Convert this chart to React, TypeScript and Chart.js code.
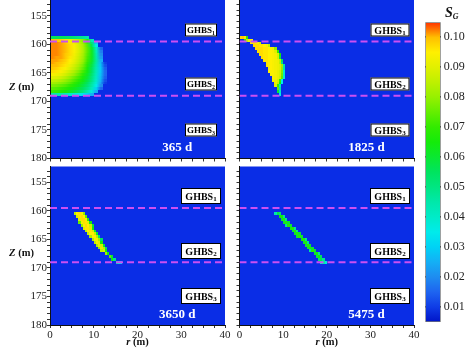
import { useEffect, useRef } from 'react';
import { Chart, registerables } from 'chart.js';
Chart.register(...registerables);

const FONT = "'Liberation Serif', 'Times New Roman', serif";

// ---- axes / tick data ----
const rRange = [0, 40];
const zRange = [152.2, 180];
const rTicks = [0, 2.5, 5, 7.5, 10, 12.5, 15, 17.5, 20, 22.5, 25, 27.5, 30, 32.5, 35, 37.5, 40];
const rLabelTicks = [0, 10, 20, 30, 40];
const zTicks = [153, 154, 155, 156, 157, 158, 159, 160, 161, 162, 163, 164, 165, 166, 167, 168, 169, 170, 171, 172, 173, 174, 175, 176, 177, 178, 179, 180];
const zLabelTicks = [155, 160, 165, 170, 175, 180];
const sgRange = [0.005, 0.105];
const sgTicks = [0.01, 0.02, 0.03, 0.04, 0.05, 0.06, 0.07, 0.08, 0.09, 0.1];

// ---- annotation data ----
const ghbsBoundaryZ = [159.5, 169.0];
const ghbsIndex = ['1', '2', '3'];
const ghbsZ = [157.4, 167.0, 175.0];
const ghbsR = 34.4;
const timeLabels = ['365 d', '1825 d', '3650 d', '5475 d'];
const timeR = 29.1;
const timeZ = 178.1;

// ---- gas saturation fields: [z top of row (m), r of first cell (m), Sg x 1000 per cell] ----
type Row = [number, number, number[]];
const sg365Cell = [1, 0.5]; // dr, dz
const sg365: Row[] = [
  [158.5, 0, [55, 56, 56, 55, 54, 52, 50, 48, 45]],
  [159.0, 0, [99, 99, 98, 96, 93, 89, 85, 79, 68, 42]],
  [159.5, 0, [102, 102, 101, 99, 96, 92, 87, 81, 71, 52, 28]],
  [160.0, 0, [102, 102, 101, 100, 97, 94, 89, 83, 74, 57, 36]],
  [160.5, 0, [102, 102, 101, 100, 97, 94, 89, 83, 74, 60, 40, 15]],
  [161.0, 0, [102, 102, 101, 100, 97, 94, 89, 83, 74, 62, 42, 18]],
  [161.5, 0, [102, 102, 101, 99, 97, 93, 88, 82, 73, 62, 44, 20]],
  [162.0, 0, [102, 101, 101, 99, 96, 92, 87, 81, 72, 62, 45, 22]],
  [162.5, 0, [101, 101, 100, 98, 95, 91, 86, 80, 71, 61, 46, 25]],
  [163.0, 0, [101, 100, 99, 97, 94, 90, 85, 79, 70, 60, 46, 27, 10]],
  [163.5, 0, [100, 100, 98, 96, 92, 88, 83, 77, 68, 58, 45, 28, 12]],
  [164.0, 0, [99, 98, 96, 94, 90, 86, 81, 75, 66, 56, 44, 29, 14]],
  [164.5, 0, [97, 96, 94, 91, 87, 83, 78, 72, 64, 55, 43, 29, 15]],
  [165.0, 0, [94, 93, 91, 88, 84, 80, 75, 69, 62, 53, 42, 28, 15]],
  [165.5, 0, [90, 89, 87, 84, 80, 76, 72, 66, 60, 51, 41, 27, 14]],
  [166.0, 0, [86, 85, 83, 80, 77, 73, 69, 64, 58, 50, 40, 26, 12]],
  [166.5, 0, [82, 81, 79, 77, 74, 70, 66, 61, 55, 47, 38, 24, 10]],
  [167.0, 0, [78, 77, 75, 73, 70, 67, 63, 58, 52, 45, 35, 20]],
  [167.5, 0, [74, 73, 71, 69, 66, 63, 59, 55, 49, 42, 30, 15]],
  [168.0, 0, [70, 69, 67, 65, 62, 59, 55, 51, 45, 37, 25]],
  [168.5, 0, [45, 45, 44, 42, 40, 38, 36, 33, 30, 25]],
];
const sg1825Cell = [0.5, 0.5];
const sg1825: Row[] = [
  [158.5, 0, [98, 99, 96, 70]],
  [159.0, 1.0, [70, 85, 92, 95]],
  [159.5, 2.5, [96, 97, 96, 94, 88]],
  [160.0, 3.0, [97, 97, 97, 96, 96, 95, 93, 85]],
  [160.5, 3.5, [97, 97, 97, 97, 96, 96, 95, 94, 92, 80]],
  [161.0, 4.0, [97, 97, 97, 96, 96, 95, 95, 94, 90, 70]],
  [161.5, 4.5, [97, 97, 96, 96, 95, 95, 94, 93, 88, 65]],
  [162.0, 5.0, [97, 96, 96, 95, 95, 94, 93, 88, 60]],
  [162.5, 5.5, [96, 96, 95, 95, 94, 93, 92, 86, 55]],
  [163.0, 6.0, [96, 95, 95, 94, 93, 92, 85, 50]],
  [163.5, 6.0, [96, 95, 95, 94, 93, 92, 90, 82, 45]],
  [164.0, 6.5, [95, 95, 94, 93, 92, 90, 80, 45]],
  [164.5, 6.5, [95, 94, 94, 93, 91, 88, 78, 40]],
  [165.0, 7.0, [94, 94, 93, 91, 88, 76, 40]],
  [165.5, 7.5, [94, 93, 91, 87, 74, 38]],
  [166.0, 7.5, [93, 92, 88, 70, 35]],
  [166.5, 8.0, [92, 86, 65, 35]],
  [167.0, 8.0, [90, 70, 40]],
  [167.5, 8.5, [75, 45]],
  [168.0, 8.5, [60, 40]],
  [168.5, 9.0, [35]],
];
const sg3650Cell = [0.5, 0.5];
const sg3650: Row[] = [
  [160.25, 5.5, [85, 95, 96, 94, 80]],
  [160.75, 6.0, [88, 96, 97, 95, 75]],
  [161.25, 6.5, [90, 97, 97, 94, 70]],
  [161.75, 6.5, [75, 92, 97, 96, 90, 65]],
  [162.25, 7.0, [80, 94, 97, 95, 88, 60]],
  [162.75, 7.5, [88, 96, 96, 90, 65]],
  [163.25, 8.0, [85, 95, 96, 88, 60]],
  [163.75, 8.5, [85, 95, 95, 86, 60]],
  [164.25, 9.0, [82, 94, 94, 84, 55]],
  [164.75, 9.5, [82, 93, 93, 82, 55]],
  [165.25, 10.0, [85, 93, 90, 65]],
  [165.75, 10.5, [82, 92, 88, 60]],
  [166.25, 11.0, [80, 90, 85, 55]],
  [166.75, 11.5, [85, 88, 65]],
  [167.25, 12.5, [82, 65]],
  [167.75, 13.5, [75, 60]],
  [168.25, 14.0, [65, 50]],
  [168.75, 15.0, [45, 40, 30]],
];
const sg5475Cell = [0.5, 0.5];
const sg5475: Row[] = [
  [160.25, 8.0, [45, 58, 52]],
  [160.75, 9.0, [65, 66, 48]],
  [161.25, 9.5, [60, 68, 48]],
  [161.75, 10.0, [60, 68, 60]],
  [162.25, 10.5, [48, 68, 60]],
  [162.75, 11.5, [66, 68, 48]],
  [163.25, 12.0, [60, 68, 48]],
  [163.75, 12.5, [60, 68, 60]],
  [164.25, 13.0, [60, 68, 60]],
  [164.75, 14.0, [66, 68, 48]],
  [165.25, 14.5, [60, 68, 48]],
  [165.75, 15.0, [60, 68, 60]],
  [166.25, 15.5, [60, 68, 60]],
  [166.75, 16.0, [48, 68, 60]],
  [167.25, 17.0, [60, 66, 48]],
  [167.75, 17.5, [58, 64, 55]],
  [168.25, 18.0, [52, 58, 48]],
  [168.75, 18.5, [40, 45, 38]],
];

// ---- colour map (style) ----
const BG_BLUE = 'rgb(10,45,230)';
const cmapV = [0.005, 0.01, 0.015, 0.02, 0.025, 0.03, 0.035, 0.04, 0.045, 0.05, 0.055, 0.06, 0.065, 0.07, 0.075, 0.08, 0.085, 0.09, 0.095, 0.1, 0.105];
const cmapC = [
  [0, 20, 200], [15, 60, 230], [30, 100, 240], [30, 140, 240], [20, 175, 245], [0, 210, 245], [0, 235, 235],
  [0, 235, 200], [0, 232, 170], [0, 230, 130], [0, 228, 95], [10, 232, 50], [20, 235, 10], [50, 235, 0],
  [100, 238, 0], [150, 240, 0], [190, 240, 0], [225, 240, 0], [255, 240, 0], [255, 190, 0], [255, 50, 0],
];
const rgb = (c: number[]) => `rgb(${Math.round(c[0])},${Math.round(c[1])},${Math.round(c[2])})`;
function sgColor(v: number): string {
  if (v <= cmapV[0]) return rgb(cmapC[0]);
  for (let i = 1; i < cmapV.length; i++) {
    if (v <= cmapV[i]) {
      const t = (v - cmapV[i - 1]) / (cmapV[i] - cmapV[i - 1]);
      const a = cmapC[i - 1], b = cmapC[i];
      return rgb([a[0] + (b[0] - a[0]) * t, a[1] + (b[1] - a[1]) * t, a[2] + (b[2] - a[2]) * t]);
    }
  }
  return rgb(cmapC[cmapC.length - 1]);
}

interface PanelSpec {
  left: number; top: number; width: number; height: number;
  plotLeft: number; plotTop: number; plotRight: number; plotBottom: number;
  showZ: boolean; showR: boolean; smooth: boolean;
  rows: Row[]; cell: number[]; time: string; box: number[];
}

const panels: PanelSpec[] = [
  { left: 0, top: 0, width: 232, height: 166, plotLeft: 50, plotTop: 0, plotRight: 225, plotBottom: 158.5, showZ: true, showR: false, smooth: true, rows: sg365, cell: sg365Cell, time: timeLabels[0], box: [32, 13, 9] },
  { left: 230, top: 0, width: 190, height: 166, plotLeft: 9.5, plotTop: 0, plotRight: 184, plotBottom: 158.5, showZ: false, showR: false, smooth: false, rows: sg1825, cell: sg1825Cell, time: timeLabels[1], box: [39, 13, 10] },
  { left: 0, top: 160, width: 232, height: 196, plotLeft: 50, plotTop: 6.5, plotRight: 225, plotBottom: 165, showZ: true, showR: true, smooth: false, rows: sg3650, cell: sg3650Cell, time: timeLabels[2], box: [40, 16, 10] },
  { left: 230, top: 160, width: 190, height: 196, plotLeft: 9.5, plotTop: 6.5, plotRight: 184, plotBottom: 165, showZ: false, showR: true, smooth: false, rows: sg5475, cell: sg5475Cell, time: timeLabels[3], box: [40, 16, 10] },
];

function makePanel(canvas: HTMLCanvasElement, p: PanelSpec) {
  const heat = {
    id: 'heat',
    beforeDraw(chart: any) {
      const { ctx, chartArea: a, scales } = chart;
      const x = scales.x, y = scales.y;
      const [dr, dz] = p.cell;
      ctx.save();
      ctx.fillStyle = BG_BLUE;
      ctx.fillRect(a.left, a.top, a.right - a.left, a.bottom - a.top);
      ctx.beginPath();
      ctx.rect(a.left, a.top, a.right - a.left, a.bottom - a.top);
      ctx.clip();
      for (const [zTop, rLeft, vals] of p.rows) {
        const y0 = Math.round(y.getPixelForValue(zTop));
        const y1 = Math.round(y.getPixelForValue(zTop + dz));
        if (p.smooth) {
          // shade the row through the cell-centre colours
          const xs = Math.round(x.getPixelForValue(rLeft));
          const xe = Math.round(x.getPixelForValue(rLeft + vals.length * dr));
          const g = ctx.createLinearGradient(xs, 0, xe, 0);
          vals.forEach((v, i) => {
            const off = (i + 0.5) / vals.length;
            g.addColorStop(off, v < 5 ? BG_BLUE : sgColor(v / 1000));
          });
          ctx.fillStyle = g;
          ctx.fillRect(xs, y0, xe - xs, y1 - y0);
        } else {
          vals.forEach((v, i) => {
            if (v < 5) return;
            const x0 = Math.round(x.getPixelForValue(rLeft + i * dr));
            const x1 = Math.round(x.getPixelForValue(rLeft + (i + 1) * dr));
            ctx.fillStyle = sgColor(v / 1000);
            ctx.fillRect(x0, y0, x1 - x0, y1 - y0);
          });
        }
      }
      ctx.restore();
    },
  };
  const labels = {
    id: 'labels',
    afterDatasetsDraw(chart: any) {
      const { ctx, scales } = chart;
      const x = scales.x, y = scales.y;
      const [bw, bh, fs] = p.box;
      ctx.save();
      ghbsZ.forEach((z, i) => {
        const cx = Math.round(x.getPixelForValue(ghbsR));
        const cy = Math.round(y.getPixelForValue(z));
        ctx.fillStyle = '#fff';
        ctx.fillRect(cx - bw / 2, cy - bh / 2, bw, bh);
        ctx.strokeStyle = '#000';
        ctx.lineWidth = 1;
        ctx.strokeRect(cx - bw / 2 + 0.5, cy - bh / 2 + 0.5, bw - 1, bh - 1);
        ctx.font = `bold ${fs}px ${FONT}`;
        const w1 = ctx.measureText('GHBS').width;
        const subFont = `bold ${Math.round(fs * 0.7)}px ${FONT}`;
        ctx.font = subFont;
        const w2 = ctx.measureText(ghbsIndex[i]).width;
        const tx = cx - (w1 + w2) / 2;
        ctx.fillStyle = '#000';
        ctx.textBaseline = 'alphabetic';
        ctx.textAlign = 'left';
        ctx.font = `bold ${fs}px ${FONT}`;
        ctx.fillText('GHBS', tx, cy + fs * 0.35);
        ctx.font = subFont;
        ctx.fillText(ghbsIndex[i], tx + w1, cy + fs * 0.5);
      });
      ctx.fillStyle = '#fff';
      ctx.font = `bold 13px ${FONT}`;
      ctx.textAlign = 'center';
      ctx.textBaseline = 'middle';
      ctx.fillText(p.time, x.getPixelForValue(timeR), y.getPixelForValue(timeZ));
      // axis titles
      ctx.fillStyle = '#111';
      if (p.showZ) {
        const yy = y.getPixelForValue(167.5);
        ctx.textAlign = 'left';
        ctx.font = `bold italic 10.5px ${FONT}`;
        const wz = ctx.measureText('Z').width;
        ctx.font = `bold 10.5px ${FONT}`;
        const wm = ctx.measureText(' (m)').width;
        const sx = 21.5 - (wz + wm) / 2;
        ctx.font = `bold italic 10.5px ${FONT}`;
        ctx.fillText('Z', sx, yy);
        ctx.font = `bold 10.5px ${FONT}`;
        ctx.fillText(' (m)', sx + wz, yy);
      }
      if (p.showR) {
        const xx = x.getPixelForValue(20);
        const yy = 342 - p.top;
        ctx.textAlign = 'left';
        ctx.font = `bold italic 10.5px ${FONT}`;
        const wr = ctx.measureText('r').width;
        ctx.font = `bold 10.5px ${FONT}`;
        const wm = ctx.measureText(' (m)').width;
        const sx = xx - (wr + wm) / 2;
        ctx.font = `bold italic 10.5px ${FONT}`;
        ctx.fillText('r', sx, yy);
        ctx.font = `bold 10.5px ${FONT}`;
        ctx.fillText(' (m)', sx + wr, yy);
      }
      ctx.restore();
    },
  };

  const tickFont = { family: FONT, size: 11 };
  return new Chart(canvas, {
    type: 'scatter',
    data: {
      datasets: ghbsBoundaryZ.map((z) => ({
        data: [{ x: rRange[0], y: z }, { x: rRange[1], y: z }],
        showLine: true,
        borderColor: '#cc4ff2',
        borderWidth: 2,
        borderDash: [7, 4],
        pointRadius: 0,
        fill: false,
      })),
    },
    options: {
      animation: false,
      responsive: false,
      maintainAspectRatio: false,
      devicePixelRatio: 1,
      events: [],
      layout: { padding: { left: 0, top: p.plotTop, right: p.width - p.plotRight, bottom: 0 } },
      plugins: { legend: { display: false }, tooltip: { enabled: false } },
      scales: {
        x: {
          type: 'linear',
          min: rRange[0],
          max: rRange[1],
          afterBuildTicks: (s: any) => { s.ticks = rTicks.map((v) => ({ value: v })); },
          afterFit: (s: any) => { s.height = p.height - p.plotBottom; s.paddingLeft = 0; s.paddingRight = 0; },
          ticks: {
            display: p.showR,
            autoSkip: false,
            maxRotation: 0,
            padding: 1,
            color: '#222',
            font: tickFont,
            callback: (v: any) => (rLabelTicks.includes(Number(v)) ? String(v) : ''),
          },
          grid: { drawOnChartArea: false, drawTicks: true, tickLength: 3, color: '#333' },
          border: { display: true, color: '#111', width: 1 },
        },
        y: {
          type: 'linear',
          reverse: true,
          min: zRange[0],
          max: zRange[1],
          afterBuildTicks: (s: any) => { s.ticks = zTicks.map((v) => ({ value: v })); },
          afterFit: (s: any) => { s.width = p.plotLeft; s.paddingTop = 0; s.paddingBottom = 0; },
          ticks: {
            display: p.showZ,
            autoSkip: false,
            padding: 0,
            color: '#222',
            font: tickFont,
            callback: (v: any) => (zLabelTicks.includes(Number(v)) ? String(v) : ''),
          },
          grid: { drawOnChartArea: false, drawTicks: true, tickLength: 3, color: '#333' },
          border: { display: true, color: '#111', width: 1 },
        },
      },
    } as any,
    plugins: [heat, labels],
  });
}

function makeColorbar(canvas: HTMLCanvasElement) {
  const title = {
    id: 'sgTitle',
    afterDraw(chart: any) {
      const { ctx } = chart;
      ctx.save();
      ctx.fillStyle = '#111';
      ctx.textBaseline = 'alphabetic';
      ctx.textAlign = 'left';
      ctx.font = `bold italic 14px ${FONT}`;
      ctx.fillText('S', 27, 17);
      const w = ctx.measureText('S').width;
      ctx.font = `bold italic 8px ${FONT}`;
      ctx.fillText('G', 27 + w, 18.5);
      ctx.restore();
    },
  };
  return new Chart(canvas, {
    type: 'bar',
    data: {
      labels: ['Sg'],
      datasets: [{
        data: [[sgRange[0], sgRange[1]]],
        backgroundColor: (c: any) => {
          const chart = c.chart;
          const area = chart.chartArea;
          if (!area) return BG_BLUE;
          const ys = chart.scales.y;
          const g = chart.ctx.createLinearGradient(0, ys.getPixelForValue(sgRange[1]), 0, ys.getPixelForValue(sgRange[0]));
          cmapV.forEach((v, i) => {
            const off = Math.min(1, Math.max(0, (sgRange[1] - v) / (sgRange[1] - sgRange[0])));
            g.addColorStop(off, rgb(cmapC[i]));
          });
          return g;
        },
        borderColor: '#777',
        borderWidth: 1,
        borderSkipped: false,
        barPercentage: 1,
        categoryPercentage: 1,
      }],
    },
    options: {
      animation: false,
      responsive: false,
      maintainAspectRatio: false,
      devicePixelRatio: 1,
      events: [],
      layout: { padding: { left: 7.3, top: 22.3, right: 0, bottom: 34 } },
      plugins: { legend: { display: false }, tooltip: { enabled: false } },
      scales: {
        x: { display: false },
        y: {
          position: 'right',
          min: sgRange[0],
          max: sgRange[1],
          z: 1,
          afterBuildTicks: (s: any) => { s.ticks = sgTicks.map((v) => ({ value: v })); },
          afterFit: (s: any) => { s.width = 33.3; s.paddingTop = 0; s.paddingBottom = 0; },
          grid: { color: '#000', lineWidth: 1.6, drawTicks: false },
          border: { display: false },
          ticks: {
            padding: 3,
            color: '#222',
            font: { family: FONT, size: 12 },
            callback: (v: any) => Number(v).toFixed(2),
          },
        },
      },
    } as any,
    plugins: [title],
  });
}

export default function App() {
  const refs = useRef<(HTMLCanvasElement | null)[]>([]);
  const cbRef = useRef<HTMLCanvasElement | null>(null);
  useEffect(() => {
    const charts: Chart[] = [];
    panels.forEach((p, i) => {
      const c = refs.current[i];
      if (c) charts.push(makePanel(c, p));
    });
    if (cbRef.current) charts.push(makeColorbar(cbRef.current));
    return () => charts.forEach((c) => c.destroy());
  }, []);
  return (
    <div style={{ position: 'fixed', left: 0, top: 0, width: 474, height: 356, background: '#fff', overflow: 'hidden' }}>
      {panels.map((p, i) => (
        <canvas
          key={i}
          ref={(el) => { refs.current[i] = el; }}
          width={p.width}
          height={p.height}
          style={{ position: 'absolute', left: p.left, top: p.top, width: p.width, height: p.height }}
        />
      ))}
      <canvas
        ref={cbRef}
        width={56}
        height={356}
        style={{ position: 'absolute', left: 418, top: 0, width: 56, height: 356 }}
      />
    </div>
  );
}
